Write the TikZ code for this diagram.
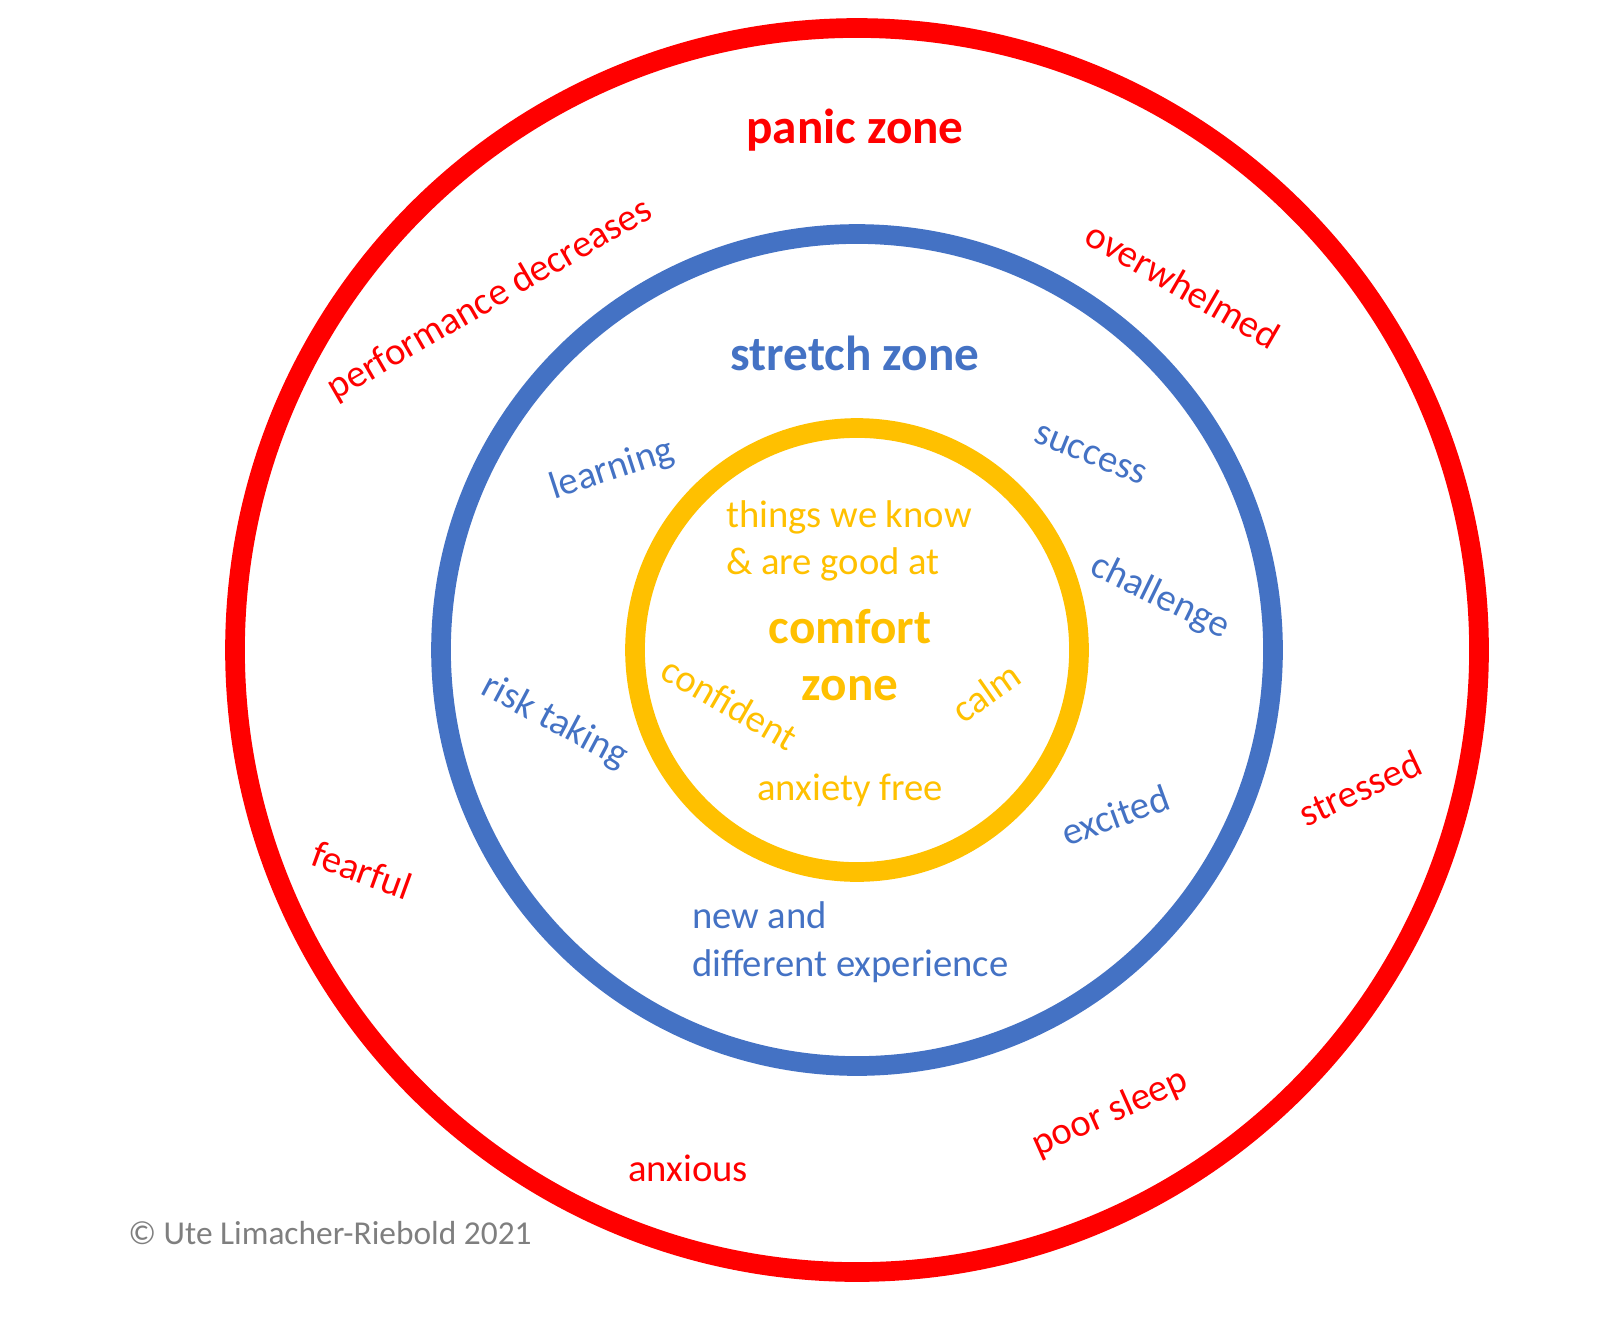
\documentclass[tikz,border=0pt]{standalone}
\usepackage{fontspec}
\setmainfont{Carlito}
\usetikzlibrary{calc}
\definecolor{panicred}{HTML}{FF0000}
\definecolor{stretchblue}{HTML}{4472C4}
\definecolor{comfortyellow}{HTML}{FFC000}
\definecolor{copygrey}{HTML}{7F7F7F}
\tikzset{
  ring/.style={line width=5.6pt},
  word/.style={font=\fontsize{11}{13.5}\selectfont, inner sep=1pt},
  title/.style={font=\fontsize{14}{16}\selectfont\bfseries, inner sep=1pt},
}
\begin{document}
\begin{tikzpicture}
        \useasboundingbox (0,0) rectangle (16,-13.16);
        \coordinate (O) at (8.57,-6.50);

        % zones
        \draw[ring, panicred] (O) circle (6.22);
        \draw[ring, stretchblue] (O) circle (4.16);
        \draw[ring, comfortyellow] (O) circle (2.22);

        % panic zone
        \node[title, panicred] (panic) at (8.55,-1.30) {panic zone};
        \node[word, panicred, rotate=30] (perf) at (4.90,-3.00) {performance decreases};
        \node[word, panicred, rotate=-30] (overw) at (11.83,-2.85) {overwhelmed};
        \node[word, panicred, rotate=25] (stress) at (13.60,-7.88) {stressed};
        \node[word, panicred, rotate=-20] (fear) at (3.62,-8.70) {fearful};
        \node[word, panicred, rotate=24] (sleep) at (11.10,-11.13) {poor sleep};
        \node[word, panicred] (anx) at (6.88,-11.68) {anxious};

        % stretch zone
        \node[title, stretchblue] (stretch) at (8.55,-3.53) {stretch zone};
        \node[word, stretchblue, rotate=18] (learn) at (6.12,-4.70) {learning};
        \node[word, stretchblue, rotate=-22] (succ) at (10.90,-4.55) {success};
        \node[word, stretchblue, rotate=-26] (chall) at (11.60,-5.97) {challenge};
        \node[word, stretchblue, rotate=-28] (risk) at (5.55,-7.22) {risk taking};
        \node[word, stretchblue, rotate=20] (exc) at (11.15,-8.15) {excited};
        \node[word, stretchblue, align=left, anchor=west] (newexp) at (6.88,-9.42)
            {new and\\different experience};

        % comfort zone
        \node[word, comfortyellow, align=left, anchor=west] (know) at (7.22,-5.41)
            {things we know\\\& are good at};
        \node[title, comfortyellow, align=center] (comfort) at (8.50,-6.55) {comfort\\zone};
        \node[word, comfortyellow, rotate=-30] (conf) at (7.30,-7.03) {confident};
        \node[word, comfortyellow, rotate=35] (calm) at (9.86,-6.92) {calm};
        \node[word, comfortyellow] (free) at (8.50,-7.90) {anxiety free};

        \node[font=\fontsize{9.5}{11}\selectfont, copygrey] (copy) at (3.30,-12.33)
            {© Ute Limacher-Riebold 2021};
    \end{tikzpicture}
\end{document}
